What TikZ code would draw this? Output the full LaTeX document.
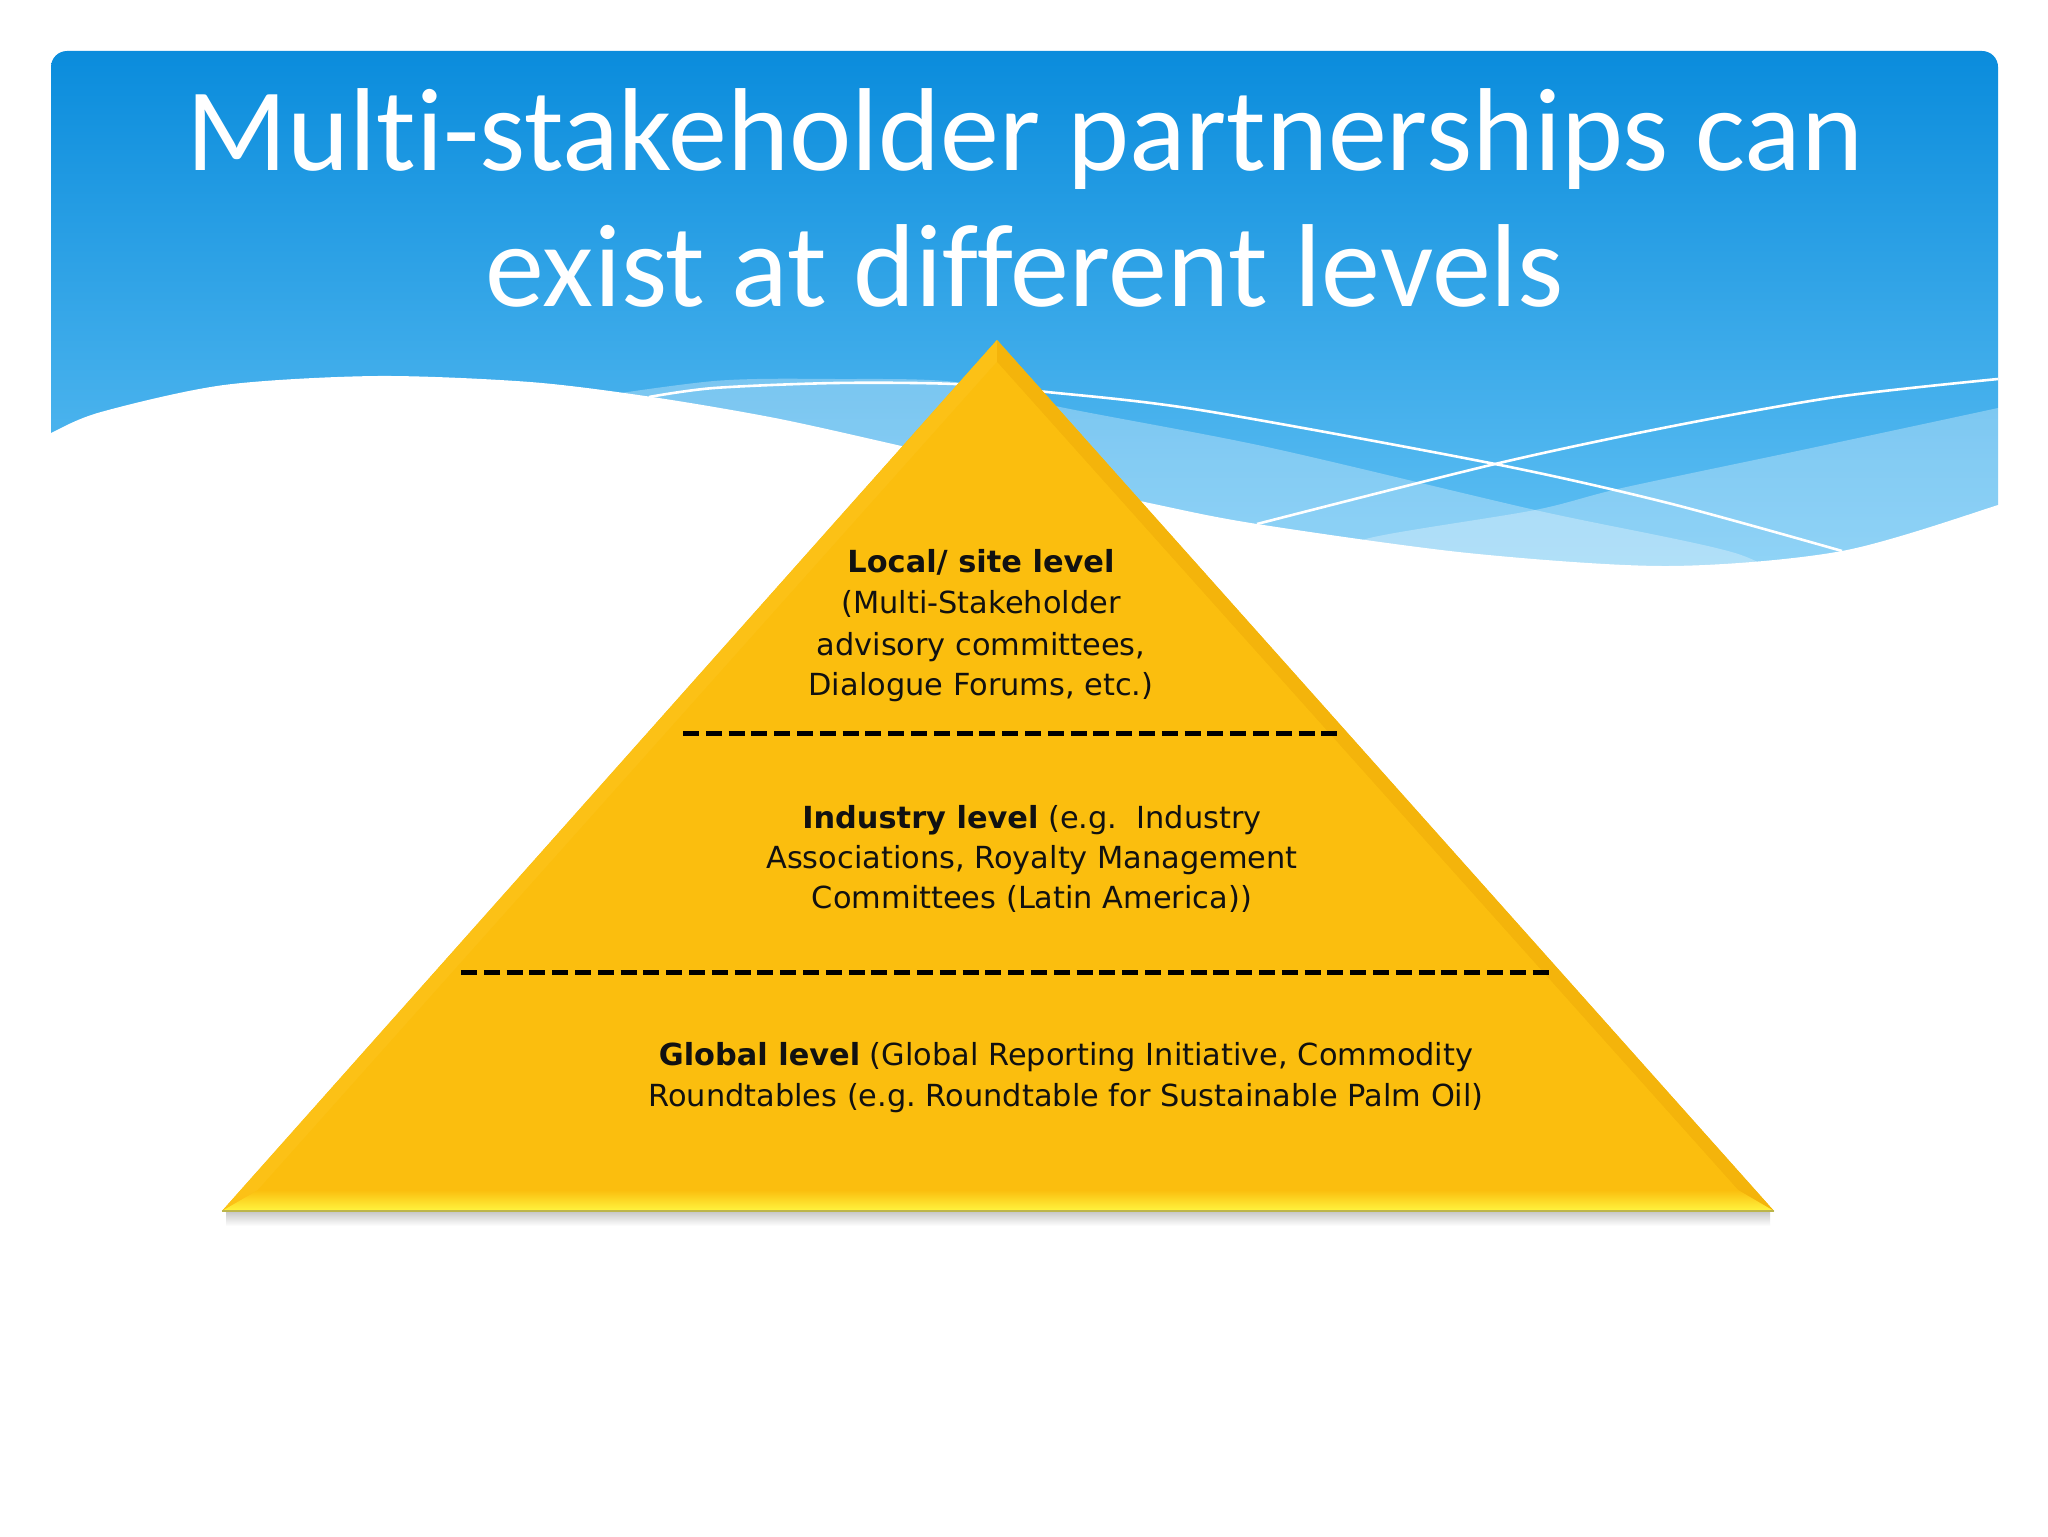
\documentclass[tikz,border=0pt]{standalone}
\usepackage{fontspec}
\newfontfamily\titlefont[Ligatures=NoCommon]{Carlito}
\newfontfamily\bodyfont{DejaVu Sans}
\definecolor{hdrtop}{HTML}{0A8CDC}
\definecolor{hdrbot}{HTML}{66C4F5}
\definecolor{gold}{HTML}{FBBE0E}
\definecolor{goldlight}{HTML}{FCC116}
\definecolor{golddark}{HTML}{F4B40B}
\definecolor{brightyellow}{HTML}{FFF540}
\definecolor{txt}{HTML}{111111}
\tikzset{
  titletxt/.style={font=\titlefont\fontsize{59}{68}\selectfont, text=white, inner sep=0pt, anchor=base},
  bodytxt/.style={font=\bodyfont\fontsize{15.2}{20}\selectfont\frenchspacing, text=txt, inner sep=0pt, anchor=base},
  sepline/.style={line width=2.5pt, dash pattern=on 8pt off 3.4pt, black},
  waveline/.style={white, line width=1.3pt},
  band/.style={white, opacity=0.3}
}
\begin{document}
\begin{tikzpicture}[x=0.5pt,y=-0.5pt]
\useasboundingbox (0,0) rectangle (2048,1536);
\fill[white] (0,0) rectangle (2048,1536);
% header panel
\shade[top color=hdrtop, bottom color=hdrbot, rounded corners=8pt] (51,51) rectangle (1998,600);
% light bands
\fill[band] plot[smooth] coordinates {(560,402) (714,381) (836,379) (955,382) (1060,407) (1267,447) (1535,510) (1735,553) (1800,590)} -- (1800,650) -- (560,650) -- cycle;
\fill[band] plot[smooth] coordinates {(1300,562) (1374,537) (1535,510) (1622,488) (1802,450) (1998,408) (2010,405)} -- (2010,650) -- (1300,650) -- cycle;
% white lower region
\fill[white] plot[smooth] coordinates {(30,445) (51,433) (101,412) (224,385) (377,376) (530,382) (652,397) (775,418) (897,445) (1030,476) (1154,504) (1257,524) (1468,553) (1668,566) (1842,551) (1998,505) (2020,495)} -- (2020,700) -- (30,700) -- cycle;
% white wave lines
\draw[waveline] plot[smooth] coordinates {(649,397) (714,388) (836,383) (955,384) (1047,392) (1200,410) (1495,464) (1668,503) (1842,551)};
\draw[waveline] plot[smooth] coordinates {(1257,524) (1495,464) (1668,427) (1836,397) (1998,379)};
% title
\node[titletxt] (title1) at (1025,170) {Multi-stakeholder partnerships can};
\node[titletxt] (title2) at (1025,306) {exist at different levels};
% pyramid
\coordinate (apex) at (997,340);
\coordinate (bl) at (222,1211);
\coordinate (br) at (1774,1211);
\coordinate (ibl) at (258,1190);
\coordinate (ibr) at (1738,1190);
\coordinate (iapex) at (997,362);
\shade[top color=gray!45, bottom color=white] (226,1211) rectangle (1770,1226);
\fill[gold] (apex) -- (bl) -- (br) -- cycle;
\fill[goldlight] (apex) -- (bl) -- (ibl) -- (iapex) -- cycle;
\fill[golddark] (apex) -- (br) -- (ibr) -- (iapex) -- cycle;
\fill[gold] (iapex) -- (ibl) -- (ibr) -- cycle;
\shade[top color=gold, bottom color=brightyellow] (ibl) -- (ibr) -- (br) -- (bl) -- cycle;
\draw[line width=0.6pt, color=olive!60] (bl) -- (br);
% separators
\draw[sepline] (683,733) -- (1337,733);
\draw[sepline] (461,972) -- (1549,972);
% texts
\node[bodytxt] (loc1) at (981,572) {\bfseries Local/ site level};
\node[bodytxt] (loc2) at (981,613) {(Multi-Stakeholder};
\node[bodytxt] (loc3) at (981,655) {advisory committees,};
\node[bodytxt] (loc4) at (981,695) {Dialogue Forums, etc.)};
\node[bodytxt] (ind1) at (1032,828) {\textbf{Industry level} (e.g.\ \ Industry};
\node[bodytxt] (ind2) at (1032,868) {Associations, Royalty Management};
\node[bodytxt] (ind3) at (1032,908) {Committees (Latin America))};
\node[bodytxt] (glo1) at (1066,1065) {\textbf{Global level} (Global Reporting Initiative, Commodity};
\node[bodytxt] (glo2) at (1066,1106) {Roundtables (e.g. Roundtable for Sustainable Palm Oil)};
\end{tikzpicture}
\end{document}
